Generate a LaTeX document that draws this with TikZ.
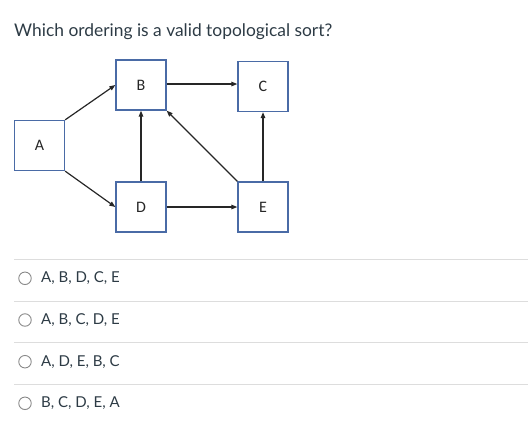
\documentclass[tikz,border=0pt]{standalone}
\usepackage{fontspec}
\setmainfont{Lato}
\newfontfamily\boxfont{Carlito}
\usetikzlibrary{arrows.meta}
\definecolor{txt}{HTML}{2D3B45}
\definecolor{boxblue}{HTML}{4A6BA6}
\definecolor{sep}{HTML}{DDDDDD}
\definecolor{radio}{HTML}{8A8A8A}
\begin{document}
\begin{tikzpicture}[x=1pt,y=-1pt,
  vbox/.style={draw=boxblue,line width=1.3pt,minimum width=50pt,minimum height=50pt,inner sep=0pt,font=\boxfont\fontsize{16}{18}\selectfont,text=black!85},
  edge/.style={-{Triangle[length=6pt,width=4.5pt]},line width=1.2pt,black!85},
  opt/.style={anchor=west,text=txt,font=\fontsize{15}{17}\selectfont,inner sep=0pt},
  sepline/.style={draw=sep,line width=0.9pt},
  radiob/.style={circle,draw=radio,line width=0.9pt,minimum size=12.5pt,inner sep=0pt}]
\useasboundingbox (0,0) rectangle (528,437);
\node[anchor=base west,text=txt,font=\fontsize{17.4}{20}\selectfont,inner sep=0pt] (title) at (14,36.5) {Which ordering is a valid topological sort?};
\node[vbox] (A) at (39.5,145.5) {A};
\node[vbox] (B) at (141,85) {B};
\node[vbox] (C) at (263,86.5) {C};
\node[vbox] (D) at (141,207) {D};
\node[vbox] (E) at (263,207) {E};
\draw[edge] (A.north east) -- (B.west);
\draw[edge] (A.south east) -- (D.west);
\draw[edge] (B.east |- 0,84) -- (C.west |- 0,84);
\draw[edge] (D.north) -- (B.south);
\draw[edge] (E.north west) -- (B.south east);
\draw[edge] (E.north) -- (C.south);
\draw[edge] (D.east) -- (E.west);
\coordinate (s1a) at (14,259.5); \coordinate (s1b) at (528,259.5);
\coordinate (s2a) at (14,301.3); \coordinate (s2b) at (528,301.3);
\coordinate (s3a) at (14,342.7); \coordinate (s3b) at (528,342.7);
\coordinate (s4a) at (14,384.3); \coordinate (s4b) at (528,384.3);
\draw[sepline] (s1a) -- (s1b);
\draw[sepline] (s2a) -- (s2b);
\draw[sepline] (s3a) -- (s3b);
\draw[sepline] (s4a) -- (s4b);
\node[radiob] (r1) at (25,278.3) {};
\node[radiob] (r2) at (25,320) {};
\node[radiob] (r3) at (25,361.7) {};
\node[radiob] (r4) at (25,403.3) {};
\node[opt] (o1) at (41,278.3) {A, B, D, C, E};
\node[opt] (o2) at (41,320) {A, B, C, D, E};
\node[opt] (o3) at (41,361.7) {A, D, E, B, C};
\node[opt] (o4) at (41,403.3) {B, C, D, E, A};
\end{tikzpicture}
\end{document}
